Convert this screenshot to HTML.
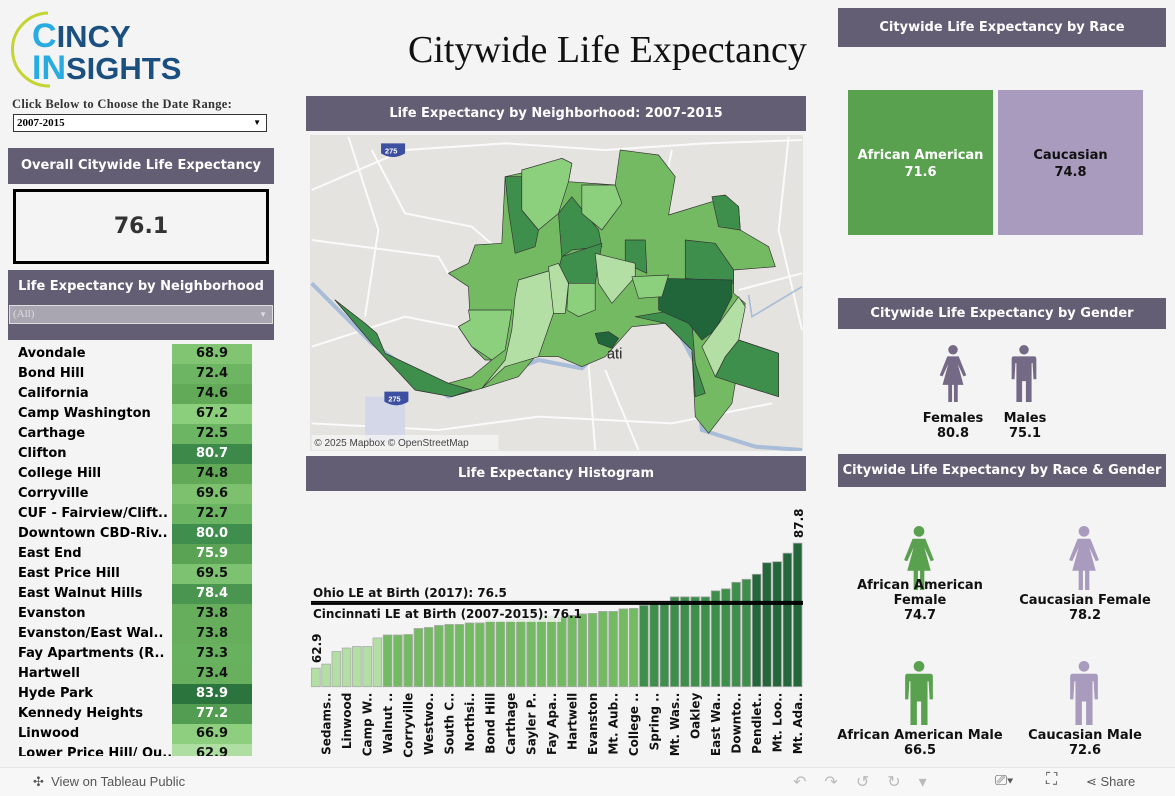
<!DOCTYPE html>
<html><head><meta charset="utf-8">
<style>
body{margin:0;width:1175px;height:795px;background:#f4f4f4;font-family:"DejaVu Sans","Liberation Sans",sans-serif;overflow:hidden;position:relative}
.abs{position:absolute}
.bar{position:absolute;background:#635e74;color:#fff;font-weight:bold;font-size:13px;text-align:center;box-sizing:border-box;white-space:nowrap}
.row{position:absolute;left:0;width:260px;height:20px;font-weight:bold;font-size:13px}
.row .n{position:absolute;left:18px;top:2px;white-space:nowrap}
.row .v{position:absolute;left:172px;width:80px;height:20px;line-height:20px;text-align:center}
.lbl{position:absolute;font-weight:bold;font-size:13px;text-align:center;color:#111;line-height:15px}
</style></head><body>
<div class="abs" style="left:10px;top:10px;width:190px;height:80px">
<svg width="190" height="80"><path d="M38 3 A36 36 0 1 0 40 76" fill="none" stroke="#c5d431" stroke-width="3"/>
<text x="22" y="37" font-family="Liberation Sans" font-weight="bold" font-size="34" fill="#29abe2">C<tspan fill="#1b4f80" font-size="31">INCY</tspan></text>
<text x="22" y="69" font-family="Liberation Sans" font-weight="bold" font-size="34" fill="#29abe2">IN<tspan fill="#1b4f80" font-size="31">SIGHTS</tspan></text></svg></div>
<div class="abs" style="left:12px;top:97px;font-family:'Liberation Serif',serif;font-weight:bold;font-size:12.5px;color:#333;letter-spacing:0.3px">Click Below to Choose the Date Range:</div>
<div class="abs" style="left:13px;top:114px;width:254px;height:18px;border:1px solid #333;background:#fff;box-sizing:border-box;font-family:'Liberation Serif',serif;font-weight:bold;font-size:11px;line-height:16px;padding-left:3px">2007-2015<span style="position:absolute;right:5px;font-size:8px">▼</span></div>
<div class="abs" style="left:408px;top:28px;font-family:'Liberation Serif',serif;font-size:38px;color:#111">Citywide Life Expectancy</div>

<div class="bar" style="left:8px;top:148px;width:266px;height:36px;line-height:36px">Overall Citywide Life Expectancy</div>
<div class="abs" style="left:13px;top:189px;width:256px;height:75px;border:3px solid #000;box-sizing:border-box;text-align:center;line-height:69px;font-weight:bold;font-size:22px;color:#333">76.1</div>
<div class="bar" style="left:8px;top:270px;width:266px;height:70px;padding-top:9px">Life Expectancy by Neighborhood</div>
<div class="abs" style="left:9px;top:305px;width:264px;height:19px;background:#a9a6b2;border:1px solid #ddd;box-sizing:border-box;color:#ddd;font-family:'Liberation Serif',serif;font-size:11px;line-height:17px;padding-left:3px">(All)<span style="position:absolute;right:5px;font-size:8px">▼</span></div>
<div class="abs" id="list" style="left:0;top:344px;width:300px;height:412px;overflow:hidden"></div>

<div class="bar" style="left:306px;top:96px;width:500px;height:35px;line-height:35px">Life Expectancy by Neighborhood: 2007-2015</div>
<div class="abs" style="left:310px;top:135px;width:493px;height:316px;overflow:hidden;background:#e4e3df">
<svg width="493" height="316" viewBox="15 15 1478 948" preserveAspectRatio="none">
<g stroke="#fafafa" stroke-width="6" fill="none">
<path d="M20 180 L300 60 L600 40 L900 60 L1200 40 L1490 30"/><path d="M200 60 L300 250 L500 290 L650 420"/><path d="M130 20 L220 300 L180 560"/><path d="M20 650 L300 560 L500 600"/><path d="M850 700 L870 960"/><path d="M900 720 L1000 960"/><path d="M700 860 L1100 880 L1400 820"/><path d="M1100 60 L1050 300 L1130 500"/><path d="M1300 480 L1490 430"/><path d="M20 880 L400 900 L700 860"/><path d="M20 330 L400 380 L430 430"/><path d="M1450 20 L1420 300 L1490 600"/></g>
<path d="M20 460 L200 640 L430 800 L700 690 L830 715 L990 560 L1100 570 L1170 700 L1190 900 L1350 950 L1490 960" fill="none" stroke="#a9bcd8" stroke-width="12"/>
<path d="M1330 495 L1340 560 L1490 470" fill="none" stroke="#a9bcd8" stroke-width="5"/>
<rect x="180" y="800" width="120" height="140" fill="#d3d7e8"/>
<g stroke="#333" stroke-width="2" stroke-linejoin="round">
<path fill="#74ba63" d="M430 430 L490 400 L510 345 L590 340 L600 140 L690 120 L770 85 L800 100 L790 155 L930 165 L945 60 L1060 75 L1110 140 L1090 255 L1220 215 L1300 230 L1305 300 L1390 350 L1410 410 L1285 420 L1285 490 L1320 520 L1300 630 L1420 670 L1420 800 L1290 760 L1280 820 L1210 910 L1170 860 L1160 660 L1080 580 L980 590 L900 680 L830 710 L760 680 L690 680 L640 740 L530 775 L440 800 L330 780 L200 640 L90 510 L180 580 L215 610 L240 670 L430 760 L500 740 L560 690 L540 690 L500 650 L460 590 L495 570 L490 470 Z"/>
<path fill="#3f8f4c" d="M600 140 L660 140 L650 240 L700 300 L690 350 L630 370 L610 240 Z"/>
<path fill="#3f8f4c" d="M760 250 L800 200 L880 300 L890 350 L800 360 L770 380 Z"/>
<path fill="#3f8f4c" d="M770 380 L890 340 L870 460 L800 470 L760 420 Z"/>
<path fill="#3f8f4c" d="M1140 330 L1230 340 L1285 420 L1285 460 L1140 445 Z"/>
<path fill="#3f8f4c" d="M1220 200 L1260 195 L1300 230 L1305 300 L1240 290 Z"/>
<path fill="#3f8f4c" d="M1300 630 L1420 670 L1420 800 L1290 760 L1230 740 L1260 680 Z"/>
<path fill="#3f8f4c" d="M90 510 L180 580 L215 610 L240 670 L430 760 L500 780 L440 800 L330 780 L200 640 Z"/>
<path fill="#3f8f4c" d="M960 330 L1020 330 L1025 430 L960 400 Z"/>
<path fill="#3f8f4c" d="M990 560 L1080 545 L1160 580 L1170 700 L1200 790 L1170 800 L1160 660 L1080 580 Z"/>
<path fill="#20663a" d="M1060 445 L1280 450 L1280 500 L1230 600 L1190 630 L1150 580 L1060 540 Z"/>
<path fill="#20663a" d="M870 610 L910 605 L940 625 L920 655 L880 640 Z"/>
<path fill="#b3dfa5" d="M870 370 L990 400 L990 440 L920 520 L880 460 Z"/>
<path fill="#b3dfa5" d="M640 450 L740 420 L745 550 L700 680 L600 710 L530 775 L600 690 L620 600 L630 500 Z"/>
<path fill="#b3dfa5" d="M1190 650 L1300 500 L1320 530 L1300 630 L1260 680 L1230 740 Z"/>
<path fill="#b3dfa5" d="M730 410 L760 400 L790 460 L780 550 L745 550 Z"/>
<path fill="#8ccf7d" d="M790 460 L870 460 L870 540 L820 560 L785 540 Z"/>
<path fill="#8ccf7d" d="M980 440 L1090 435 L1070 500 L1000 505 Z"/>
<path fill="#8ccf7d" d="M650 120 L770 85 L800 100 L790 155 L760 250 L700 300 L650 240 Z"/>
<path fill="#8ccf7d" d="M830 165 L930 165 L950 220 L890 300 L830 250 Z"/>
<path fill="#8ccf7d" d="M490 540 L620 540 L600 660 L560 690 L500 650 L460 590 L495 570 Z"/>
</g>
<text x="905" y="685" font-family="Liberation Sans" font-size="44" fill="#222">ati</text>
<g font-family="Liberation Sans" font-weight="bold" font-size="22" fill="#fff"><path d="M228 40 L300 40 L300 70 Q264 92 228 70 Z" fill="#3d4fa0"/><text x="240" y="70">275</text><path d="M238 785 L310 785 L310 815 Q274 837 238 815 Z" fill="#3d4fa0"/><text x="250" y="815">275</text></g>
<rect x="20" y="915" width="560" height="45" fill="#f4f4f4" opacity="0.8"/>
<text x="28" y="948" font-family="Liberation Sans" font-size="30" fill="#444">© 2025 Mapbox  © OpenStreetMap</text>
</svg></div>

<div class="bar" style="left:306px;top:456px;width:500px;height:35px;line-height:35px">Life Expectancy Histogram</div>
<svg class="abs" id="hist" style="left:0;top:0" width="1175" height="765"></svg>

<div class="bar" style="left:838px;top:8px;width:328px;height:39px;line-height:39px">Citywide Life Expectancy by Race</div>
<div class="abs" style="left:848px;top:90px;width:145px;height:145px;background:#59a14f;color:#fff;font-weight:bold;font-size:13px;text-align:center;padding-top:57px;box-sizing:border-box;line-height:17px">African American<br>71.6</div>
<div class="abs" style="left:998px;top:90px;width:145px;height:145px;background:#a99bbd;color:#111;font-weight:bold;font-size:13px;text-align:center;padding-top:57px;box-sizing:border-box;line-height:17px">Caucasian<br>74.8</div>

<div class="bar" style="left:838px;top:298px;width:328px;height:31px;line-height:31px">Citywide Life Expectancy by Gender</div>
<div class="bar" style="left:838px;top:454px;width:328px;height:33px;line-height:33px">Citywide Life Expectancy by Race &amp; Gender</div>
<svg class="abs" id="icons" style="left:0;top:0" width="1175" height="765"></svg>
<div class="lbl" style="left:913px;top:411px;width:80px">Females<br>80.8</div>
<div class="lbl" style="left:995px;top:411px;width:60px">Males<br>75.1</div>
<div class="lbl" style="left:850px;top:578px;width:140px">African American<br>Female<br>74.7</div>
<div class="lbl" style="left:1010px;top:593px;width:150px">Caucasian Female<br>78.2</div>
<div class="lbl" style="left:835px;top:728px;width:170px">African American Male<br>66.5</div>
<div class="lbl" style="left:1010px;top:728px;width:150px">Caucasian Male<br>72.6</div>

<div class="abs" style="left:0;top:767px;width:1175px;height:28px;background:#f7f7f7;border-top:1px solid #e6e6e6;color:#555;font-family:'Liberation Sans',sans-serif;font-size:13px">
<span style="position:absolute;left:33px;top:6px">✣ &nbsp;View on Tableau Public</span>
<span style="position:absolute;left:793px;top:4px;color:#bbb;font-size:16px;letter-spacing:18px">↶↷↺↻▾</span>
<span style="position:absolute;left:995px;top:4px;font-size:15px">⎚▾</span>
<span style="position:absolute;left:1046px;top:3px;font-size:16px">⛶</span>
<span style="position:absolute;left:1086px;top:6px">⋖ Share</span></div>

<script>
const listNames=["Avondale","Bond Hill","California","Camp Washington","Carthage","Clifton","College Hill","Corryville","CUF - Fairview/Clift..","Downtown CBD-Riv..","East End","East Price Hill","East Walnut Hills","Evanston","Evanston/East Wal..","Fay Apartments (R..","Hartwell","Hyde Park","Kennedy Heights","Linwood","Lower Price Hill/ Qu.."];
const listValues=[68.9,72.4,74.6,67.2,72.5,80.7,74.8,69.6,72.7,80.0,75.9,69.5,78.4,73.8,73.8,73.3,73.4,83.9,77.2,66.9,62.9];
const histLabels=["","Sedams..","","Linwood","","Camp W..","","Walnut ..","","Corryville","","Westwo..","","South C..","","Northsi..","","Bond Hill","","Carthage","","Sayler P..","","Fay Apa..","","Hartwell","","Evanston","","Mt. Aub..","","College ..","","Spring ..","","Mt. Was..","","Oakley","","East Wa..","","Downto..","","Pendlet..","","Mt. Loo..","","Mt. Ada.."];
const histValues=[62.9,63.7,66.2,66.9,67.2,67.2,68.9,69.5,69.5,69.6,70.8,71.0,71.4,71.6,71.6,71.9,71.9,72.4,72.3,72.5,72.7,72.7,73.1,73.3,73.1,73.4,73.7,73.8,74.2,74.2,74.7,74.8,75.4,75.6,75.7,77.1,77.1,77.1,77.1,78.3,78.7,80.0,80.6,81.6,83.9,84.1,85.8,87.8];
const refValues=[76.5,76.1];
const refLabels=["Ohio LE at Birth (2017): 76.5","Cincinnati LE at Birth (2007-2015): 76.1"];

function hex(c){return '#'+c.map(v=>Math.round(v).toString(16).padStart(2,'0')).join('');}
const stops=[[62,[181,225,170]],[67,[140,207,125]],[69,[128,196,114]],[72.5,[108,181,98]],[75,[96,168,86]],[80,[64,142,77]],[84,[42,115,62]],[90,[30,100,55]]];
function listColor(v){for(let i=0;i<stops.length-1;i++){const a=stops[i],b=stops[i+1];if(v<=b[0]){const t=Math.max(0,(v-a[0])/(b[0]-a[0]));return hex(a[1].map((x,k)=>x+(b[1][k]-x)*t));}}return hex(stops[stops.length-1][1]);}
const list=document.getElementById('list');
listNames.forEach((n,i)=>{const r=document.createElement('div');r.className='row';r.style.top=(i*20)+'px';


const v=listValues[i];
r.innerHTML='<span class="n">'+n+'</span><span class="v" style="background:'+listColor(v)+';color:'+(v>=75.5?'#fff':'#111')+'">'+v.toFixed(1)+'</span>';list.appendChild(r);});

const NS='http://www.w3.org/2000/svg';
const hist=document.getElementById('hist');
const x0=311,x1=803,base=686.7,vmin=59.2,ppu=5.02;
const bw=(x1-x0)/histValues.length;
const yS=v=>base-(v-vmin)*ppu;
function barColor(v){return v<69.2?'#b3dfa5':v<75.3?'#74ba63':v<81?'#3f8f4c':'#23673a';}
function mk(t,a){const e=document.createElementNS(NS,t);for(const k in a)e.setAttribute(k,a[k]);return e;}
histValues.forEach((v,i)=>{const r=mk('rect',{x:x0+i*bw+0.5,y:yS(v),width:bw-1.5,height:base-yS(v),fill:barColor(v),stroke:'#aaa','stroke-width':0.8});


hist.appendChild(r);
if(histLabels[i]){const cx=x0+i*bw+bw/2+4,cy=base+6;const t=mk('text',{x:cx,y:cy,transform:'rotate(-90 '+cx+' '+cy+')','text-anchor':'end','font-weight':'bold','font-size':12,fill:'#111'});t.textContent=histLabels[i];


hist.appendChild(t);}});
[0,histValues.length-1].forEach(i=>{const cx=x0+i*bw+bw/2+5,cy=yS(histValues[i])-5;const t=mk('text',{x:cx,y:cy,transform:'rotate(-90 '+cx+' '+cy+')','font-weight':'bold','font-size':12,fill:'#111'});t.textContent=histValues[i].toFixed(1);


hist.appendChild(t);});
refValues.forEach((v,i)=>{const y=yS(v)+2;const l=mk('line',{x1:x0,x2:x1,y1:y,y2:y,stroke:'#000','stroke-width':2});


hist.appendChild(l);
const ty=i==0?y-5:y+14;const bg=mk('rect',{x:x0,y:ty-12,width:i==0?200:250,height:16,fill:'#f4f4f4',opacity:0.85});hist.appendChild(bg);
const t=mk('text',{x:x0+2,y:ty,'font-weight':'bold','font-size':12,fill:'#111'});t.textContent=refLabels[i];


hist.appendChild(t);});

const icons=document.getElementById('icons');
function person(cx,top,h,female,col){const s=h/60;const g=mk('g',{fill:col,transform:'translate('+cx+','+top+') scale('+s+')'});
g.innerHTML='<circle cx="0" cy="5" r="5"/>'+(female?'<path d="M-6 12 L6 12 L14 32 L11 33 L5 20 L11 42 L5 42 L5 60 L1 60 L1 42 L-1 42 L-1 60 L-5 60 L-5 42 L-11 42 L-5 20 L-11 33 L-14 32 Z"/>':'<path d="M-11 12 L11 12 Q13 12 13 15 L13 36 L10 36 L9 19 L8 19 L8 60 L2 60 L2 38 L-2 38 L-2 60 L-8 60 L-8 19 L-9 19 L-10 36 L-13 36 L-13 15 Q-13 12 -11 12 Z"/>');


icons.appendChild(g);}
person(953,345,57,true,'#756a86');person(1024,345,57,false,'#756a86');
person(919,526,64,true,'#59a14f');person(1084,526,64,true,'#a99bbd');
person(919,661,64,false,'#59a14f');person(1084,661,64,false,'#a99bbd');
</script>
</body></html>
